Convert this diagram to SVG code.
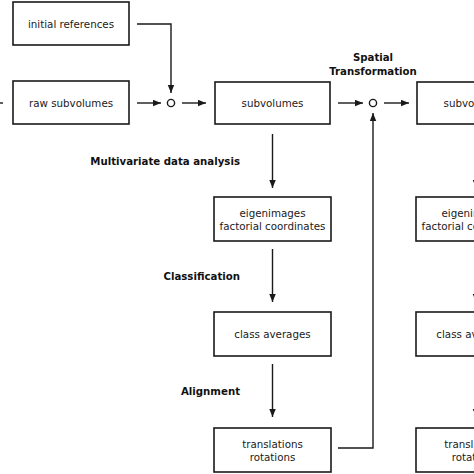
<svg xmlns="http://www.w3.org/2000/svg" width="474" height="474" viewBox="0 0 474 474">
<defs>
<style>
.box{fill:#fff;stroke:#1a1a1a;stroke-width:1.6}
.t{font-family:"DejaVu Sans",sans-serif;font-size:10.3px;fill:#1a1a1a;text-anchor:middle}
.b{font-family:"DejaVu Sans",sans-serif;font-size:10.2px;font-weight:bold;fill:#111}
.c{fill:none;stroke:#1a1a1a;stroke-width:1.4}
.j{fill:#fff;stroke:#1a1a1a;stroke-width:1.4}
</style>
<marker id="ah" markerUnits="userSpaceOnUse" markerWidth="8" markerHeight="7" refX="8" refY="3.25" orient="auto">
<path d="M0,0 L8,3.25 L0,6.5 z" fill="#1a1a1a"/>
</marker>
</defs>
<rect width="474" height="474" fill="#fff"/>
<g id="connectors">
<path class="c" d="M0,103 H3"/>
<path class="c" d="M137,103 H161" marker-end="url(#ah)"/>
<path class="c" d="M182,103 H206" marker-end="url(#ah)"/>
<path class="c" d="M137,24 H171 V93" marker-end="url(#ah)"/>
<path class="c" d="M338,103 H363" marker-end="url(#ah)"/>
<path class="c" d="M384,103 H409" marker-end="url(#ah)"/>
<path class="c" d="M272.5,134 V188" marker-end="url(#ah)"/>
<path class="c" d="M272.5,249 V302" marker-end="url(#ah)"/>
<path class="c" d="M272.5,364 V417" marker-end="url(#ah)"/>
<path class="c" d="M338,448 H373 V113" marker-end="url(#ah)"/>
<path class="c" d="M476,134 V188" marker-end="url(#ah)"/>
<path class="c" d="M476,249 V302" marker-end="url(#ah)"/>
<path class="c" d="M476,364 V417" marker-end="url(#ah)"/>
<circle class="j" cx="171" cy="103" r="3.6"/>
<circle class="j" cx="373" cy="103" r="3.6"/>
</g>
<g id="labels">
<text class="b" x="240" y="164.7" text-anchor="end">Multivariate data analysis</text>
<text class="b" x="240" y="279.7" text-anchor="end">Classification</text>
<text class="b" x="240" y="394.7" text-anchor="end">Alignment</text>
<text class="b" x="373" y="60.7" text-anchor="middle">Spatial</text>
<text class="b" x="373" y="74.7" text-anchor="middle">Transformation</text>
</g>
<g id="initial-references"><rect class="box" x="13" y="2" width="116" height="43"/><text class="t" x="71" y="27.7">initial references</text></g>
<g id="raw-subvolumes"><rect class="box" x="13" y="81" width="116" height="43"/><text class="t" x="71" y="106.7">raw subvolumes</text></g>
<g id="subvolumes"><rect class="box" x="215" y="82" width="115" height="42"/><text class="t" x="272.5" y="106.7">subvolumes</text></g>
<g id="eigenimages"><rect class="box" x="214" y="197" width="117" height="44"/><text class="t" x="272.5" y="216.7">eigenimages</text><text class="t" x="272.5" y="229.7">factorial coordinates</text></g>
<g id="class-averages"><rect class="box" x="214" y="312" width="117" height="44"/><text class="t" x="272.5" y="337.7">class averages</text></g>
<g id="translations"><rect class="box" x="214" y="428" width="117" height="44"/><text class="t" x="272.5" y="447.7">translations</text><text class="t" x="272.5" y="460.7">rotations</text></g>
<g id="subvolumes-2"><rect class="box" x="417" y="82" width="115" height="42"/><text class="t" x="474.5" y="106.7">subvolumes</text></g>
<g id="eigenimages-2"><rect class="box" x="416" y="197" width="117" height="44"/><text class="t" x="474.5" y="216.7">eigenimages</text><text class="t" x="474.5" y="229.7">factorial coordinates</text></g>
<g id="class-averages-2"><rect class="box" x="416" y="312" width="117" height="44"/><text class="t" x="474.5" y="337.7">class averages</text></g>
<g id="translations-2"><rect class="box" x="416" y="428" width="117" height="44"/><text class="t" x="474.5" y="447.7">translations</text><text class="t" x="474.5" y="460.7">rotations</text></g>
</svg>
